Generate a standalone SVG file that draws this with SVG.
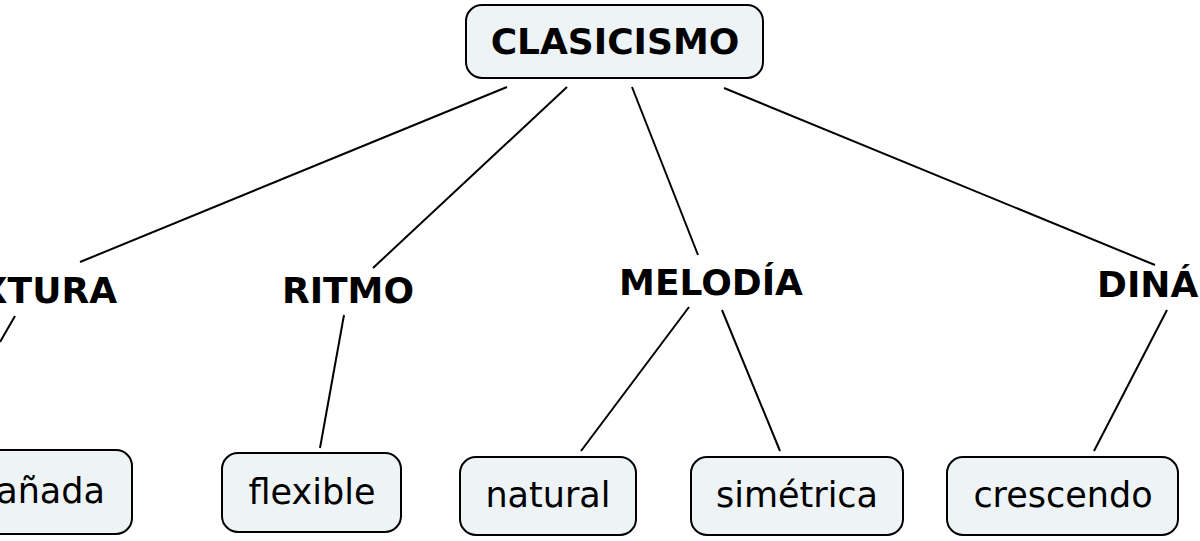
<svg xmlns="http://www.w3.org/2000/svg" width="1200" height="541" viewBox="0 0 1200 541">
<style>
.box{fill:#eef3f5;stroke:#000;stroke-width:2}
.t{font-family:"DejaVu Sans",sans-serif;font-size:35px;fill:#000}
.b{font-family:"DejaVu Sans",sans-serif;font-size:36px;font-weight:bold;fill:#000}
.c line{stroke:#000;stroke-width:2}
</style>
<rect width="1200" height="541" fill="#fff"/>
<g class="c">
<line x1="507" y1="87" x2="80" y2="262"/>
<line x1="567" y1="87" x2="373" y2="268"/>
<line x1="632" y1="87" x2="698" y2="255"/>
<line x1="724" y1="88" x2="1155" y2="265"/>
<line x1="15" y1="316" x2="0" y2="342"/>
<line x1="344" y1="315" x2="320" y2="448"/>
<line x1="689" y1="307" x2="581" y2="451"/>
<line x1="722" y1="310" x2="780" y2="451"/>
<line x1="1167" y1="310" x2="1094" y2="451"/>
</g>
<g id="clasicismo"><rect class="box" x="466" y="5" width="297" height="73" rx="16"/><text class="b" x="615" y="54" text-anchor="middle">CLASICISMO</text></g>
<g id="textura"><text class="b" x="117" y="303" text-anchor="end">TEXTURA</text></g>
<g id="ritmo"><text class="b" x="348" y="303" text-anchor="middle">RITMO</text></g>
<g id="melodia"><text class="b" x="711" y="295" text-anchor="middle">MELODÍA</text></g>
<g id="dinamica"><text class="b" x="1097" y="297">DINÁMICA</text></g>
<g id="acompanada"><rect class="box" x="-100" y="450" width="232" height="84" rx="16"/><text class="t" x="105" y="503" text-anchor="end">acompañada</text></g>
<g id="flexible"><rect class="box" x="222" y="453" width="179" height="79" rx="16"/><text class="t" x="312" y="504" text-anchor="middle">flexible</text></g>
<g id="natural"><rect class="box" x="460" y="457" width="176" height="78" rx="16"/><text class="t" x="548" y="507" text-anchor="middle">natural</text></g>
<g id="simetrica"><rect class="box" x="691" y="457" width="212" height="78" rx="16"/><text class="t" x="797" y="507" text-anchor="middle">simétrica</text></g>
<g id="crescendo"><rect class="box" x="947" y="457" width="231" height="78" rx="16"/><text class="t" x="1063" y="507" text-anchor="middle">crescendo</text></g>
</svg>
